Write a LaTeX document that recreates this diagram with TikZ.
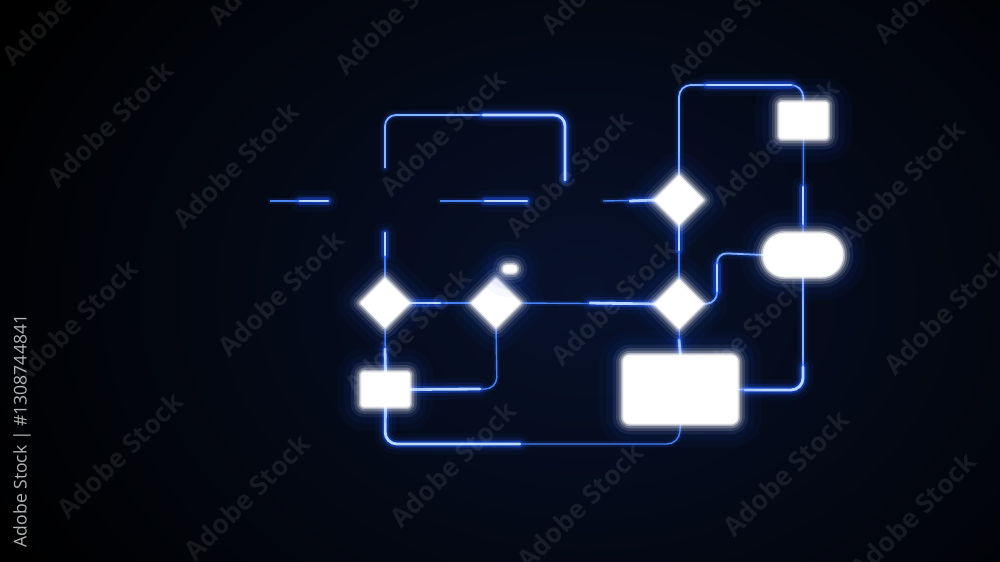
\documentclass[tikz,border=0pt]{standalone}
\usepackage{fontspec}
\setmainfont{Open Sans}
\usetikzlibrary{shapes.geometric,calc}
\pgfdeclarelayer{back}
\pgfdeclarelayer{lines}
\pgfsetlayers{back,lines,main}
\definecolor{core}{HTML}{B8D8FF}
\definecolor{glowb}{HTML}{1F5BFF}
\definecolor{halo}{HTML}{9DB8FF}
\definecolor{dimc}{HTML}{4A86F0}
\definecolor{medc}{HTML}{86B4FF}
\definecolor{navy}{HTML}{07112A}
\definecolor{wmgray}{HTML}{B4B4B4}
\tikzset{
  bright/.style={preaction={draw=glowb,line width=6pt,opacity=0.05,line cap=round},
                 preaction={draw=glowb,line width=3.6pt,opacity=0.12,line cap=round},
                 preaction={draw=glowb,line width=2pt,opacity=0.35,line cap=round},
                 draw=core,line width=0.8pt,line cap=round},
  dim/.style={preaction={draw=glowb,line width=1.6pt,opacity=0.15,line cap=round},
              draw=dimc,line width=0.4pt},
  medium/.style={preaction={draw=glowb,line width=3pt,opacity=0.08,line cap=round},
                 preaction={draw=glowb,line width=1.4pt,opacity=0.25,line cap=round},
                 draw=medc,line width=0.5pt},
  shapeglow/.style={preaction={draw=glowb,line width=14pt,opacity=0.04,line join=round},
                    preaction={draw=glowb,line width=10pt,opacity=0.06,line join=round},
                    preaction={draw=halo,line width=6.5pt,opacity=0.1,line join=round},
                    preaction={draw=white,line width=4.5pt,opacity=0.14,line join=round},
                    preaction={draw=white,line width=3pt,opacity=0.25,line join=round},
                    preaction={draw=white,line width=1.8pt,opacity=0.45,line join=round},
                    preaction={draw=white,line width=0.9pt,opacity=0.8,line join=round},
                    fill=white,draw=white,line width=0.2pt,inner sep=0pt,outer sep=0pt},
  dia/.style={shapeglow,diamond,minimum width=4.7mm,minimum height=4.7mm},
  boxs/.style={shapeglow,rectangle,rounded corners=0.2mm},
  wm/.style={text=white,opacity=0.08,font=\bfseries\fontsize{7.6}{8}\selectfont,rotate=45,inner sep=0pt},
  idtext/.style={text=wmgray,font=\fontsize{5}{6}\selectfont,rotate=90,inner sep=0pt}
}
\begin{document}
\begin{tikzpicture}[x=0.1mm,y=-0.1mm]
\useasboundingbox (0,0) rectangle (1000,562);
\clip (0,0) rectangle (1000,562);
\begin{pgfonlayer}{back}
\fill[black] (0,0) rectangle (1000,562);
\shade[inner color=navy,outer color=black] (585,290) ellipse [x radius=66mm,y radius=52mm];
\end{pgfonlayer}

% nodes
\node[dia] (d1) at (385,303) {};
\node[dia] (d2) at (496,303) {};
\node[dia] (d3) at (679,304) {};
\node[dia] (d4) at (679,200) {};
\node[boxs,minimum width=4.7mm,minimum height=3.3mm] (b1) at (385.5,389.5) {};
\node[boxs,minimum width=4.7mm,minimum height=3.5mm] (b2) at (803.5,120.5) {};
\node[boxs,minimum width=11.3mm,minimum height=6.7mm,rounded corners=0.6mm] (b3) at (680.5,389.5) {};
\node[boxs,minimum width=7.8mm,minimum height=4.2mm,rounded corners=2.1mm] (p1) at (803,255) {};
\node[boxs,minimum width=1.2mm,minimum height=0.6mm,rounded corners=0.3mm] (p2) at (510,269) {};

% coordinates
\coordinate (l1a) at (270,201); \coordinate (l1b) at (300,201); \coordinate (l1c) at (328,201);
\coordinate (l2a) at (440,201); \coordinate (l2b) at (485,201); \coordinate (l2c) at (527,201);
\coordinate (l3a) at (603,201); \coordinate (l3b) at (630,201);
\coordinate (t1) at (385,168); \coordinate (t2) at (385,115); \coordinate (t3) at (565,115);
\coordinate (t4) at (565,180); \coordinate (tb) at (483,115);
\coordinate (v1a) at (385,233); \coordinate (v1b) at (385,255);
\coordinate (h12) at (440,303);
\coordinate (v1c) at (385,349);
\coordinate (c8) at (497,389); \coordinate (h8) at (480,389);
\coordinate (c9a) at (385,444); \coordinate (c9b) at (679,444); \coordinate (h9) at (520,444);
\coordinate (h23) at (590,303);
\coordinate (v43) at (679,250);
\coordinate (v3b) at (679,340);
\coordinate (c13a) at (679,85); \coordinate (c13b) at (803,85);
\coordinate (h13a) at (707,85); \coordinate (h13b) at (791,85);
\coordinate (v2b) at (803,187); \coordinate (v2c) at (803,224);
\coordinate (c15a) at (717,303); \coordinate (c15b) at (717,253);
\coordinate (v15a) at (717,265); \coordinate (v15b) at (717,291);
\coordinate (c16) at (803,390); \coordinate (v16) at (803,367); \coordinate (h16) at (745,390);

\begin{pgfonlayer}{lines}
% connectors: base lines
\draw[dim] (l1a) -- (l1c);
\draw[dim] (l2a) -- (l2c);
\draw[dim] (l3a) -- (d4.west);
\draw[medium,rounded corners=1.1mm] (t1) -- (t2) -- (t3) -- (t4);
\draw[dim] (v1a) -- (d1.north);
\draw[dim] (d1.east) -- (d2.west);
\draw[dim] (d1.south) -- (b1.north);
\draw[dim,rounded corners=1.2mm] (d2.south) -- (c8) -- (b1.east);
\draw[dim,rounded corners=1.2mm] (b1.south) -- (c9a) -- (c9b) -- (b3.south);
\draw[dim] (d2.east) -- (d3.west);
\draw[dim] (d4.south) -- (d3.north);
\draw[dim] (d3.south) -- (b3.north);
\draw[medium,rounded corners=1.2mm] (d4.north) -- (c13a) -- (c13b) -- (b2.north);
\draw[dim] (b2.south) -- (p1.north);
\draw[medium,rounded corners=1.0mm] (d3.east) -- (c15a) -- (c15b) -- (p1.west);
\draw[medium,rounded corners=1.2mm] (p1.south) -- (c16) -- (b3.east);

% bright overlays
\draw[bright] (l1b) -- (l1c);
\draw[bright] (l2b) -- (l2c);
\draw[bright] (l3b) -- (d4.west);
\draw[bright,rounded corners=1.1mm] (tb) -- (t3) -- (t4);
\draw[bright] (v1a) -- (v1b);
\draw[bright] (d1.east) -- (h12);
\draw[bright] (v1c) -- (b1.north);
\draw[bright] (b1.east) -- (h8);
\draw[bright,rounded corners=1.2mm] (b1.south) -- (c9a) -- (h9);
\draw[bright] (h23) -- (d3.west);
\draw[bright] (d4.south) -- (v43);
\draw[bright] (v3b) -- (b3.north);
\draw[bright] (h13a) -- (h13b);
\draw[bright] (v2b) -- (v2c);
\draw[bright] (v15a) -- (v15b);
\draw[bright,rounded corners=1.2mm] (v16) -- (c16) -- (h16);
\end{pgfonlayer}

% watermark
\foreach \k in {0,1,2}{
  \foreach \x/\y in {65/2,271/-38,110/124,236/165,75/322,281/293,120/455,247/497}{
    \node[wm] at (\x+333*\k,\y+9*\k) {Adobe Stock};
  }
}
\node[idtext] (id) at (22,431) {Adobe Stock | \#1308744841};
\end{tikzpicture}
\end{document}
